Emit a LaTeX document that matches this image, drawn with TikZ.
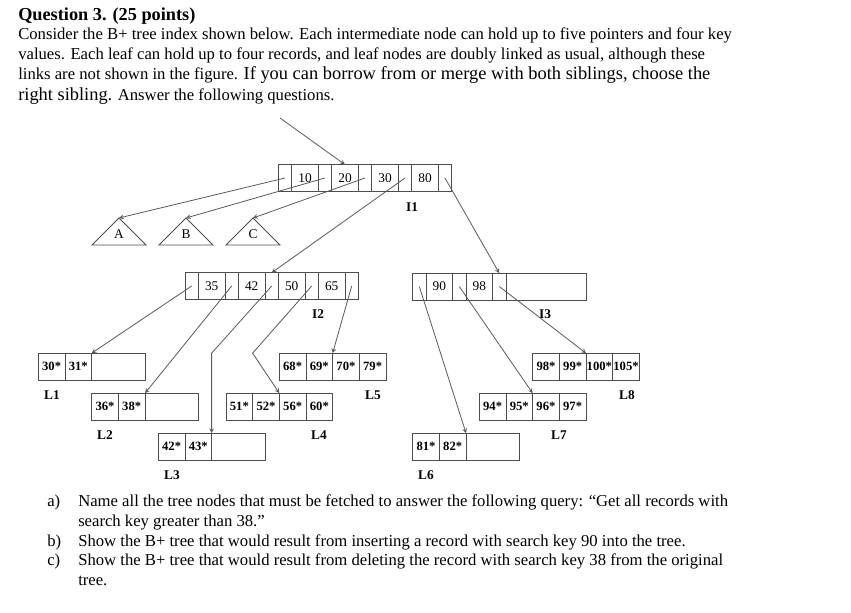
\documentclass[tikz,border=0pt]{standalone}
\usepackage{fontspec}
\setmainfont{Liberation Serif}
\usetikzlibrary{arrows,positioning,calc}

\begin{document}
\begin{tikzpicture}[x=0.75pt, y=-0.75pt,
    ptr/.style={draw=black!70, minimum width=10pt, minimum height=20pt, inner sep=0pt, outer sep=0pt},
    keycell/.style={ptr, minimum width=20pt, font=\fontsize{10}{12}\selectfont},
    blank/.style={ptr, minimum width=60pt},
    leaf/.style={draw=black!70, minimum width=80pt, minimum height=20pt, inner sep=0pt, outer sep=0pt},
    rec/.style={leaf, minimum width=20pt, font=\bfseries\fontsize{9.5}{11}\selectfont},
    lbl/.style={font=\bfseries\fontsize{10}{12}\selectfont},
    txt/.style={anchor=base west, inner sep=0pt, font=\fontsize{12.5}{14}\selectfont},
    tri/.style={draw=black!70, line width=0.6pt},
    arrow/.style={->, >=stealth, draw=black!65, line width=0.6pt}
]
\useasboundingbox (0,0) rectangle (851,613);

% Question text
\node[txt, font=\bfseries\fontsize{13.7}{16}\selectfont] (title) at (18,21) {Question 3. (25 points)};
\node[txt] (txta) at (18,40) {Consider the B+ tree index shown below. Each intermediate node can hold up to five pointers and four key};
\node[txt] (txtb) at (18,60) {values. Each leaf can hold up to four records, and leaf nodes are doubly linked as usual, although these};
\node[txt] (txtc) at (18,80) {links are not shown in the figure. {\fontsize{13.8}{15}\selectfont If you can borrow from or merge with both siblings, choose the}};
\node[txt] (txtd) at (18,101) {{\fontsize{13.8}{15}\selectfont right sibling.} Answer the following questions.};

% Root I1
\coordinate (top) at (280,118);
\node[ptr] (i1p1) at (285,178) {};
\node[keycell, right=0pt of i1p1] (i1k1) {10};
\node[ptr, right=0pt of i1k1] (i1p2) {};
\node[keycell, right=0pt of i1p2] (i1k2) {20};
\node[ptr, right=0pt of i1k2] (i1p3) {};
\node[keycell, right=0pt of i1p3] (i1k3) {30};
\node[ptr, right=0pt of i1k3] (i1p4) {};
\node[keycell, right=0pt of i1p4] (i1k4) {80};
\node[ptr, right=0pt of i1k4] (i1p5) {};
\node[lbl] (li1) at (412,207) {I1};

% Subtrees A, B, C
\coordinate (ta) at (119,218);
\coordinate (tb) at (186,218);
\coordinate (tc) at (253,218);
\draw[tri] (ta) -- ++(27,27) -- ++(-54,0) -- cycle;
\draw[tri] (tb) -- ++(27,27) -- ++(-54,0) -- cycle;
\draw[tri] (tc) -- ++(27,27) -- ++(-54,0) -- cycle;
\node (na) at (119,234) {A};
\node (nb) at (186,234) {B};
\node (nc) at (253,234) {C};

% I2
\node[ptr] (i2p1) at (191.7,286) {};
\node[keycell, right=0pt of i2p1] (i2k1) {35};
\node[ptr, right=0pt of i2k1] (i2p2) {};
\node[keycell, right=0pt of i2p2] (i2k2) {42};
\node[ptr, right=0pt of i2k2] (i2p3) {};
\node[keycell, right=0pt of i2p3] (i2k3) {50};
\node[ptr, right=0pt of i2k3] (i2p4) {};
\node[keycell, right=0pt of i2p4] (i2k4) {65};
\node[ptr, right=0pt of i2k4] (i2p5) {};
\node[lbl] (li2) at (318,314) {I2};

% I3
\node[ptr] (i3p1) at (419.3,286.5) {};
\node[keycell, right=0pt of i3p1] (i3k1) {90};
\node[ptr, right=0pt of i3k1] (i3p2) {};
\node[keycell, right=0pt of i3p2] (i3k2) {98};
\node[ptr, right=0pt of i3k2] (i3p3) {};
\node[blank, right=0pt of i3p3] (i3e) {};
\node[lbl] (li3) at (545,314) {I3};

% Leaves
\node[leaf, anchor=west] (l1) at (38.3,366.5) {};
\node[rec, anchor=west] (l1a) at (l1.west) {30*};
\node[rec, right=0pt of l1a] (l1b) {31*};
\node[lbl] (ll1) at (52,395) {L1};

\node[leaf, anchor=west] (l2) at (91.7,406.5) {};
\node[rec, anchor=west] (l2a) at (l2.west) {36*};
\node[rec, right=0pt of l2a] (l2b) {38*};
\node[lbl] (ll2) at (105,435) {L2};

\node[leaf, anchor=west] (l3) at (158.3,446.5) {};
\node[rec, anchor=west] (l3a) at (l3.west) {42*};
\node[rec, right=0pt of l3a] (l3b) {43*};
\node[lbl] (ll3) at (172,475) {L3};

\node[leaf, anchor=west] (l4) at (226,406.5) {};
\node[rec, anchor=west] (l4a) at (l4.west) {51*};
\node[rec, right=0pt of l4a] (l4b) {52*};
\node[rec, right=0pt of l4b] (l4c) {56*};
\node[rec, right=0pt of l4c] (l4d) {60*};
\node[lbl] (ll4) at (319,435) {L4};

\node[leaf, anchor=west] (l5) at (279.3,366.5) {};
\node[rec, anchor=west] (l5a) at (l5.west) {68*};
\node[rec, right=0pt of l5a] (l5b) {69*};
\node[rec, right=0pt of l5b] (l5c) {70*};
\node[rec, right=0pt of l5c] (l5d) {79*};
\node[lbl] (ll5) at (373,395) {L5};

\node[leaf, anchor=west] (l6) at (412.7,446.5) {};
\node[rec, anchor=west] (l6a) at (l6.west) {81*};
\node[rec, right=0pt of l6a] (l6b) {82*};
\node[lbl] (ll6) at (426,475) {L6};

\node[leaf, anchor=west] (l7) at (479.3,406.5) {};
\node[rec, anchor=west] (l7a) at (l7.west) {94*};
\node[rec, right=0pt of l7a] (l7b) {95*};
\node[rec, right=0pt of l7b] (l7c) {96*};
\node[rec, right=0pt of l7c] (l7d) {97*};
\node[lbl] (ll7) at (559,435) {L7};

\node[leaf, anchor=west] (l8) at (532.7,366.5) {};
\node[rec, anchor=west] (l8a) at (l8.west) {98*};
\node[rec, right=0pt of l8a] (l8b) {99*};
\node[rec, right=0pt of l8b] (l8c) {100*};
\node[rec, right=0pt of l8c] (l8d) {105*};
\node[lbl] (ll8) at (627,395) {L8};

% Pointers
\draw[arrow] (top) -- (i1k2.north);
\draw[arrow] (i1p1.center) -- (ta);
\draw[arrow] (i1p2.center) -- (tb);
\draw[arrow] (i1p3.center) -- (tc);
\draw[arrow] (i1p4.center) -- (i2p3.north);
\draw[arrow] (i1p5.center) -- (i3p3.north);

\draw[arrow] (i2p1.center) -- (l1b.north east);
\draw[arrow] (i2p2.center) -- (l2b.north east);
\draw[arrow] (i2p3.center) -- (l3b.north east |- l1.north) -- (l3b.north east);
\draw[arrow] (i2p4.center) -- (l4b.north west |- l5.north) -- (l4b.north east);
\draw[arrow] (i2p5.center) -- (l5b.north east);

\draw[arrow] (i3p1.center) -- (l6b.north east);
\draw[arrow] (i3p2.center) -- (l7b.north east);
\draw[arrow] (i3p3.center) -- (l8b.north east);

% Questions
\node[txt] (qa) at (47,507) {a)};
\node[txt] (qat) at (78,507) {Name all the tree nodes that must be fetched to answer the following query: ``Get all records with};
\node[txt] (qat2) at (78,526) {search key greater than 38.''};
\node[txt] (qb) at (47,546) {b)};
\node[txt] (qbt) at (78,546) {Show the B+ tree that would result from inserting a record with search key 90 into the tree.};
\node[txt] (qc) at (47,565) {c)};
\node[txt] (qct) at (78,565) {Show the B+ tree that would result from deleting the record with search key 38 from the original};
\node[txt] (qct2) at (78,585) {tree.};

\end{tikzpicture}
\end{document}
